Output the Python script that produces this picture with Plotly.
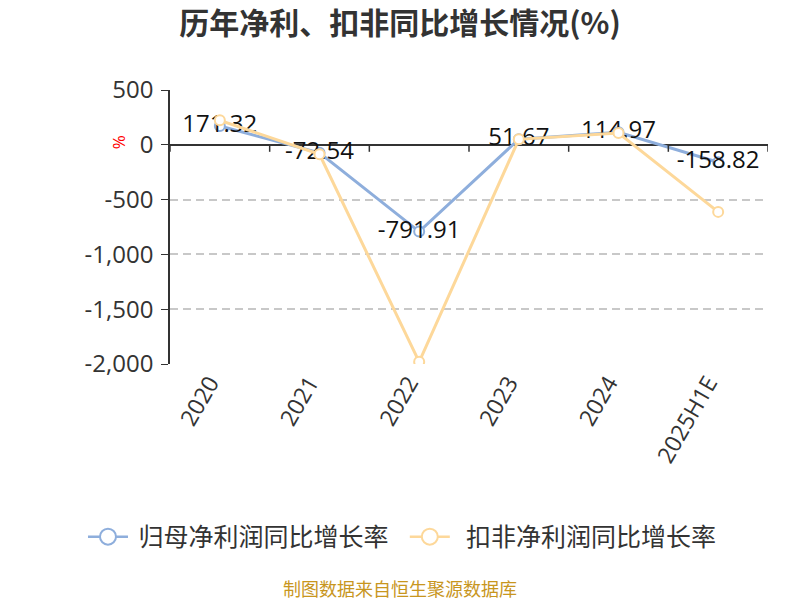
import plotly.graph_objects as go

categories = ["2020", "2021", "2022", "2023", "2024", "2025H1E"]
net_profit_growth = [171.32, -72.54, -791.91, 51.67, 114.97, -158.82]
deducted_growth = [223, -87, -1980, 50, 107, -612]
y_ticks = [500, 0, -500, -1000, -1500, -2000]
y_tick_text = ["500", "0", "-500", "-1,000", "-1,500", "-2,000"]
series_names = ["归母净利润同比增长率", "扣非净利润同比增长率"]

FONT = "Open Sans, Noto Sans CJK SC, sans-serif"
CJK = "Noto Sans CJK SC, sans-serif"
BLUE = "#8eaedc"
ORANGE = "#fdd89a"

fig = go.Figure()
fig.add_trace(go.Scatter(
    x=categories, y=net_profit_growth, name=series_names[0], showlegend=False,
    mode="lines+markers+text",
    line=dict(color=BLUE, width=3),
    marker=dict(symbol="circle", size=10, color="white", line=dict(color=BLUE, width=2)),
    text=[f"{v:.2f}" for v in net_profit_growth],
    textposition="middle center",
    textfont=dict(family=FONT, size=24, color="#111"),
))
fig.add_trace(go.Scatter(
    x=categories, y=deducted_growth, name=series_names[1], showlegend=False,
    mode="lines+markers",
    line=dict(color=ORANGE, width=3),
    marker=dict(symbol="circle", size=10, color="white", line=dict(color=ORANGE, width=2)),
))
# legend entries with larger symbols
legend_labels = ["\u00a0" + series_names[0] + "\u00a0\u00a0",
                 "\u00a0\u00a0" + series_names[1]]
for label, color in zip(legend_labels, [BLUE, ORANGE]):
    fig.add_trace(go.Scatter(
        x=[None], y=[None], name=label, mode="lines+markers",
        line=dict(color=color, width=2.5),
        marker=dict(symbol="circle", size=17, color="white", line=dict(color=color, width=2)),
    ))

# category boundary ticks along the zero line
for i in range(len(categories) + 1):
    fig.add_shape(type="line", xref="x", yref="y", x0=i - 0.5, x1=i - 0.5,
                  ysizemode="pixel", yanchor=0, y0=0, y1=-7,
                  line=dict(color="#333", width=1.5))

fig.update_layout(
    width=792, height=592,
    paper_bgcolor="white", plot_bgcolor="white",
    margin=dict(l=162, r=32, t=82, b=236, autoexpand=False),
    title=dict(text="<b>历年净利、扣非同比增长情况(%)</b>", x=0.495, xanchor="center",
               y=0.974, yanchor="middle", font=dict(family=CJK, size=30, color="#333")),
    xaxis=dict(type="category", range=[-0.5, 5.5], showgrid=False, showline=False,
               ticks="", tickangle=-60, tickfont=dict(family=FONT, size=23, color="#333"),
               ticklabelshift=-10, zeroline=False),
    yaxis=dict(range=[-2000, 500], tickvals=y_ticks, ticktext=y_tick_text,
               tickfont=dict(family=FONT, size=24, color="#333"),
               showline=True, linecolor="#333", linewidth=1.5,
               ticks="outside", ticklen=7, tickcolor="#333", ticklabelstandoff=3,
               showgrid=True, gridcolor="#c8c8c8", griddash="8px,5px", gridwidth=1.5,
               zeroline=True, zerolinecolor="#333", zerolinewidth=1.5),
    legend=dict(orientation="h", x=-0.1455, xanchor="left",
                y=-0.631, yanchor="middle",
                font=dict(family=CJK, size=25, color="#333"), itemwidth=40),
    showlegend=True,
    annotations=[
        dict(text="%", xref="paper", yref="paper", x=-0.109, y=0.843, showarrow=False,
             textangle=-90, font=dict(family=FONT, size=17, color="red")),
        dict(text="制图数据来自恒生聚源数据库", xref="paper", yref="paper", x=0.385, y=-0.817,
             xanchor="center", yanchor="middle", showarrow=False,
             font=dict(family=CJK, size=18, color="#c8961e")),
    ],
)

fig.write_html("out.html")
